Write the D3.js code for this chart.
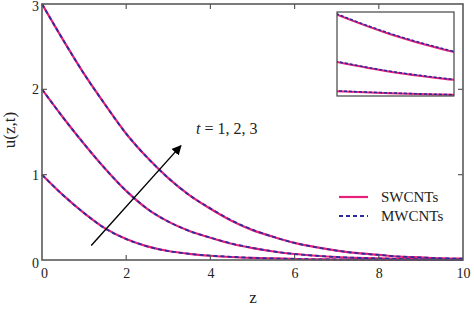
<!DOCTYPE html>
<html lang="en">
<head>
<meta charset="UTF-8">
<title>u(z,t)</title>
<script src="https://d3js.org/d3.v7.min.js"></script>
<style>
  body { margin: 0; background: #fff; }
  svg text { font-family: "Liberation Serif", "DejaVu Serif", serif; fill: #222; }
</style>
</head>
<body>
<script>

var w = 474;
var h = 313;

// values
var zValues = [0, 0.5, 1, 1.5, 2, 2.5, 3, 3.5, 4, 4.5, 5, 5.5, 6, 6.5, 7, 7.5, 8, 8.5, 9, 9.5, 10];

var swT1 = [1.00, 0.76, 0.55, 0.37, 0.245, 0.16, 0.105, 0.072, 0.05, 0.035, 0.025, 0.018, 0.012, 0.008, 0.006, 0.004, 0.003, 0.002, 0.001, 0.001, 0.000];
var swT2 = [2.00, 1.67, 1.36, 1.07, 0.81, 0.60, 0.45, 0.34, 0.26, 0.19, 0.14, 0.10, 0.07, 0.05, 0.035, 0.025, 0.018, 0.012, 0.008, 0.005, 0.004];
var swT3 = [3.00, 2.58, 2.18, 1.82, 1.48, 1.20, 0.96, 0.76, 0.60, 0.46, 0.35, 0.27, 0.20, 0.15, 0.11, 0.08, 0.06, 0.04, 0.03, 0.02, 0.015];

var mwT1 = [1.00, 0.76, 0.55, 0.37, 0.245, 0.16, 0.105, 0.072, 0.052, 0.037, 0.026, 0.018, 0.012, 0.008, 0.006, 0.004, 0.003, 0.002, 0.001, 0.001, 0.000];
var mwT2 = [2.00, 1.67, 1.36, 1.07, 0.81, 0.60, 0.45, 0.34, 0.263, 0.193, 0.143, 0.10, 0.07, 0.05, 0.035, 0.025, 0.018, 0.012, 0.008, 0.005, 0.004];
var mwT3 = [3.00, 2.58, 2.18, 1.82, 1.48, 1.20, 0.96, 0.76, 0.605, 0.465, 0.355, 0.27, 0.20, 0.15, 0.11, 0.08, 0.06, 0.04, 0.03, 0.02, 0.015];

var xTicks = [0, 2, 4, 6, 8, 10];
var yTicks = [0, 1, 2, 3];
var legendLabels = ["SWCNTs", "MWCNTs"];

var pink = "#e8207c";
var blue = "#2c2c9c";
var frame = "#5a5a5a";

var swSeries = [swT1, swT2, swT3];
var mwSeries = [mwT1, mwT2, mwT3];

var svg = d3.select("body").append("svg")
    .attr("width", w)
    .attr("height", h);

var x = d3.scaleLinear().domain([0, 10]).range([42, 463]);
var y = d3.scaleLinear().domain([0, 3]).range([260, 4]);

function toPoints(vals) {
    return vals.map(function(v, i) { return [zValues[i], v]; });
}

var line = d3.line()
    .x(function(d) { return x(d[0]); })
    .y(function(d) { return y(d[1]); })
    .curve(d3.curveMonotoneX);

// curves
swSeries.forEach(function(s) {
    svg.append("path")
        .attr("d", line(toPoints(s)))
        .attr("fill", "none")
        .attr("stroke", pink)
        .attr("stroke-width", 2.2);
});
mwSeries.forEach(function(s) {
    svg.append("path")
        .attr("d", line(toPoints(s)))
        .attr("fill", "none")
        .attr("stroke", blue)
        .attr("stroke-width", 1.8)
        .attr("stroke-dasharray", "4,3");
});

// frame
svg.append("rect")
    .attr("x", x(0)).attr("y", y(3))
    .attr("width", x(10) - x(0)).attr("height", y(0) - y(3))
    .attr("fill", "none")
    .attr("stroke", frame)
    .attr("stroke-width", 1.6);

// tick labels (ticks drawn inward below)
var bottomAxis = d3.axisBottom(x).tickValues(xTicks).tickSize(0).tickPadding(8).tickFormat(d3.format("d"));
var gx = svg.append("g").attr("transform", "translate(0," + y(0) + ")").call(bottomAxis);
gx.select(".domain").remove();
gx.selectAll("text").style("font-size", "14px")
    .attr("dx", function(d) { return d === 0 ? 2 : 0; });

var leftAxis = d3.axisLeft(y).tickValues(yTicks).tickSize(0).tickPadding(3).tickFormat(d3.format("d"));
var gy = svg.append("g").attr("transform", "translate(" + x(0) + ",0)").call(leftAxis);
gy.select(".domain").remove();
gy.selectAll("text").style("font-size", "14px")
    .attr("dy", function(d) { return d === 0 ? "0.55em" : d === 3 ? "0.45em" : "0.32em"; });

[2, 4, 6, 8].forEach(function(t) {
    svg.append("line").attr("x1", x(t)).attr("x2", x(t)).attr("y1", y(0)).attr("y2", y(0) - 5)
        .attr("stroke", frame).attr("stroke-width", 1.2);
    svg.append("line").attr("x1", x(t)).attr("x2", x(t)).attr("y1", y(3)).attr("y2", y(3) + 5)
        .attr("stroke", frame).attr("stroke-width", 1.2);
});
[1, 2].forEach(function(t) {
    svg.append("line").attr("x1", x(0)).attr("x2", x(0) + 5).attr("y1", y(t)).attr("y2", y(t))
        .attr("stroke", frame).attr("stroke-width", 1.2);
    svg.append("line").attr("x1", x(10)).attr("x2", x(10) - 5).attr("y1", y(t)).attr("y2", y(t))
        .attr("stroke", frame).attr("stroke-width", 1.2);
});

// axis titles
svg.append("text")
    .attr("transform", "translate(15," + 130 + ") rotate(-90)")
    .attr("text-anchor", "middle")
    .style("font-size", "17px")
    .text("u(z,t)");

svg.append("text")
    .attr("x", 253).attr("y", 303)
    .attr("text-anchor", "middle")
    .style("font-size", "17px")
    .text("z");

// arrow with t label
var defs = svg.append("defs");
defs.append("marker")
    .attr("id", "head")
    .attr("viewBox", "0 0 10 10")
    .attr("refX", 9).attr("refY", 5)
    .attr("markerWidth", 7).attr("markerHeight", 7)
    .attr("orient", "auto")
    .append("path").attr("d", "M0,0 L10,5 L0,10 Z").attr("fill", "#000");

svg.append("line")
    .attr("x1", x(1.17)).attr("y1", y(0.17))
    .attr("x2", x(3.3)).attr("y2", y(1.34))
    .attr("stroke", "#000")
    .attr("stroke-width", 1.4)
    .attr("marker-end", "url(#head)");

var tl = svg.append("text")
    .attr("x", 196).attr("y", 134)
    .style("font-size", "16px");
tl.append("tspan").style("font-style", "italic").text("t");
tl.append("tspan").text(" = 1, 2, 3");

// legend
var legend = svg.append("g");
legendLabels.forEach(function(lbl, i) {
    var ly = 197 + i * 19;
    legend.append("line")
        .attr("x1", 339).attr("x2", 368)
        .attr("y1", ly).attr("y2", ly)
        .attr("stroke", i === 0 ? pink : blue)
        .attr("stroke-width", i === 0 ? 2.2 : 2)
        .attr("stroke-dasharray", i === 0 ? null : "4,3");
    legend.append("text")
        .attr("x", 381).attr("y", ly + 5)
        .style("font-size", "15px")
        .text(lbl);
});

// inset: zoom on 4 <= z <= 5.1
var ix = d3.scaleLinear().domain([4, 5.1]).range([337, 454]);
var iy = d3.scaleLinear().domain([0.015, 0.62]).range([96, 12]);

defs.append("clipPath").attr("id", "insetClip")
    .append("rect")
    .attr("x", ix(4)).attr("y", iy(0.62))
    .attr("width", ix(5.1) - ix(4)).attr("height", iy(0.015) - iy(0.62));

var iline = d3.line()
    .x(function(d) { return ix(d[0]); })
    .y(function(d) { return iy(d[1]); })
    .curve(d3.curveMonotoneX);

svg.append("rect")
    .attr("x", ix(4)).attr("y", iy(0.62))
    .attr("width", ix(5.1) - ix(4)).attr("height", iy(0.015) - iy(0.62))
    .attr("fill", "#fff");

var inset = svg.append("g").attr("clip-path", "url(#insetClip)");
swSeries.forEach(function(s) {
    inset.append("path")
        .attr("d", iline(toPoints(s)))
        .attr("fill", "none")
        .attr("stroke", pink)
        .attr("stroke-width", 2);
});
mwSeries.forEach(function(s) {
    inset.append("path")
        .attr("d", iline(toPoints(s)))
        .attr("fill", "none")
        .attr("stroke", blue)
        .attr("stroke-width", 1.6)
        .attr("stroke-dasharray", "3,2");
});

svg.append("rect")
    .attr("x", ix(4)).attr("y", iy(0.62))
    .attr("width", ix(5.1) - ix(4)).attr("height", iy(0.015) - iy(0.62))
    .attr("fill", "none")
    .attr("stroke", "#444")
    .attr("stroke-width", 1.2);

</script>
</body>
</html>
